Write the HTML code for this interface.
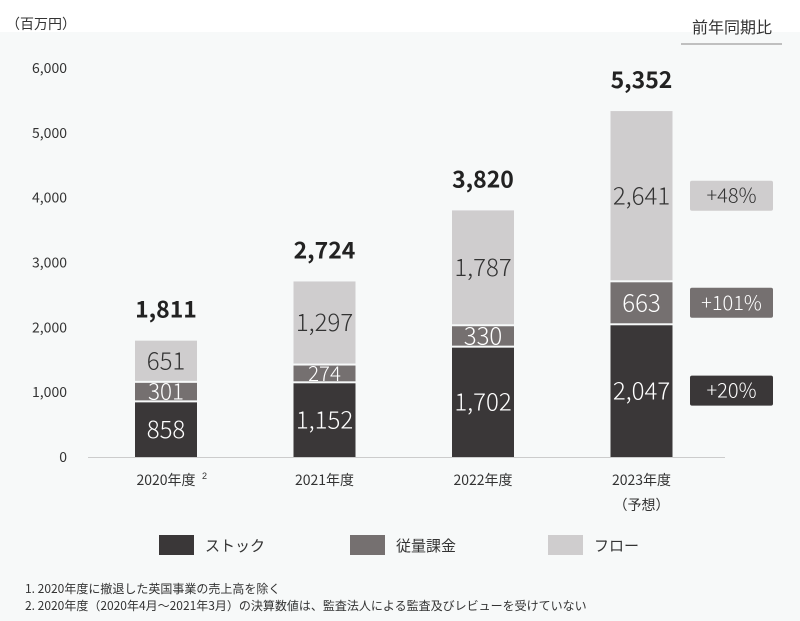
<!DOCTYPE html>
<html><head><meta charset="utf-8"><style>
body{margin:0;width:800px;height:621px;overflow:hidden;background:#fff;font-family:"Liberation Sans","Noto Sans CJK JP",sans-serif;}
#bg{position:absolute;left:0;top:32px;width:800px;height:589px;background:#f7f9f9;}
svg{position:absolute;left:0;top:0;}
</style></head><body>
<div id="bg"></div>
<svg id="c" width="800" height="621"></svg>
<script>
const categories=["2020年度","2021年度","2022年度","2023年度"];
const stock=[858,1152,1702,2047];
const usage=[301,274,330,663];
const flow=[651,1297,1787,2641];
const totals=["1,811","2,724","3,820","5,352"];
const yTicks=[0,1000,2000,3000,4000,5000,6000];
const growthLabels=["+20%","+101%","+48%"];
const NS="http://www.w3.org/2000/svg";
const svg=document.getElementById('c');
const y0=457,pxPer=(457-68)/6000;
const y=v=>y0-v*pxPer;
const x=i=>166+i*158.5;
const BW=62;
const colors=["#3a3738","#757070","#cfcdce"];
const CJK='"Noto Sans CJK JP",sans-serif';
function el(t,a,txt){const e=document.createElementNS(NS,t);for(const k in a)e.setAttribute(k,a[k]);if(txt!==undefined)e.textContent=txt;svg.appendChild(e);return e;}
const fmt=v=>v.toLocaleString('en-US');
let t=el('text',{x:6,y:29,'font-size':14,fill:'#333','font-family':CJK},'（百万円）');


t=el('text',{x:732,y:33,'font-size':16,fill:'#333','text-anchor':'middle','font-family':CJK},'前年同期比');


t=el('line',{x1:681,x2:782,y1:44,y2:44,stroke:'#888','stroke-width':1});


yTicks.forEach(v=>{const e=el('text',{x:67,y:y(v)+5,'font-size':14,fill:'#333','text-anchor':'end','font-family':CJK},fmt(v));

});
t=el('line',{x1:88,x2:725,y1:y0+0.5,y2:y0+0.5,stroke:'#ccc','stroke-width':1});


categories.forEach((c,i)=>{
  const series=[stock[i],usage[i],flow[i]];
  let base=0;
  series.forEach((v,s)=>{
    const top=y(base+v),bot=y(base);
    const r=el('rect',{x:x(i)-BW/2,y:top+1,width:BW,height:Math.max(0,bot-top-(s===0?1:2)),fill:colors[s]});
    
    
    const h=bot-top;
    const fs=Math.min(24,h*1.15);
    const lt=el('text',{x:x(i),y:(top+bot)/2+fs*0.36,'font-size':fs,fill:s===2?'#333':'#fff','text-anchor':'middle','font-family':CJK,'font-weight':300},fmt(v));
    
    
    base+=v;
  });
  const tt=el('text',{x:x(i),y:y(base)-22,'font-size':23,'font-weight':'bold',fill:'#222','text-anchor':'middle','font-family':CJK},totals[i]);
  
  
  const cl=el('text',{x:x(i),y:485,'font-size':14,fill:'#333','text-anchor':'middle','font-family':CJK},c);
  
  
});
t=el('text',{x:202,y:479,'font-size':9,fill:'#333'},'2');


t=el('text',{x:x(3),y:510,'font-size':14,fill:'#333','text-anchor':'middle','font-family':CJK},'（予想）');


const last=3;const segs=[[0,stock[last]],[stock[last],stock[last]+usage[last]],[stock[last]+usage[last],stock[last]+usage[last]+flow[last]]];
const badgeFill=["#3a3738","#757070","#cfcdce"];
growthLabels.forEach((g,s)=>{
  const cy=(y(segs[s][0])+y(segs[s][1]))/2;
  const r=el('rect',{x:690,y:cy-15,width:83,height:30,rx:2,fill:badgeFill[s]});
  
  
  const gt=el('text',{x:731.5,y:cy+7,'font-size':20,fill:s===2?'#333':'#fff','text-anchor':'middle','font-family':CJK,'font-weight':300},g);
  
  
});
const legendNames=["ストック","従量課金","フロー"];
const legendX=[159,350,548];
legendNames.forEach((n,i)=>{
  const r=el('rect',{x:legendX[i],y:535,width:35,height:20,fill:colors[i]});
  
  
  const lt=el('text',{x:legendX[i]+46,y:551,'font-size':15,fill:'#333','font-family':CJK},n);
  
  
});
t=el('text',{x:25,y:593,'font-size':12,fill:'#333','font-family':CJK},'1.   2020年度に撤退した英国事業の売上高を除く');


t.setAttribute('xml:space','preserve');
t=el('text',{x:25,y:610,'font-size':12,fill:'#333','font-family':CJK},'2.   2020年度（2020年4月～2021年3月）の決算数値は、監査法人による監査及びレビューを受けていない');


</script>
</body></html>
